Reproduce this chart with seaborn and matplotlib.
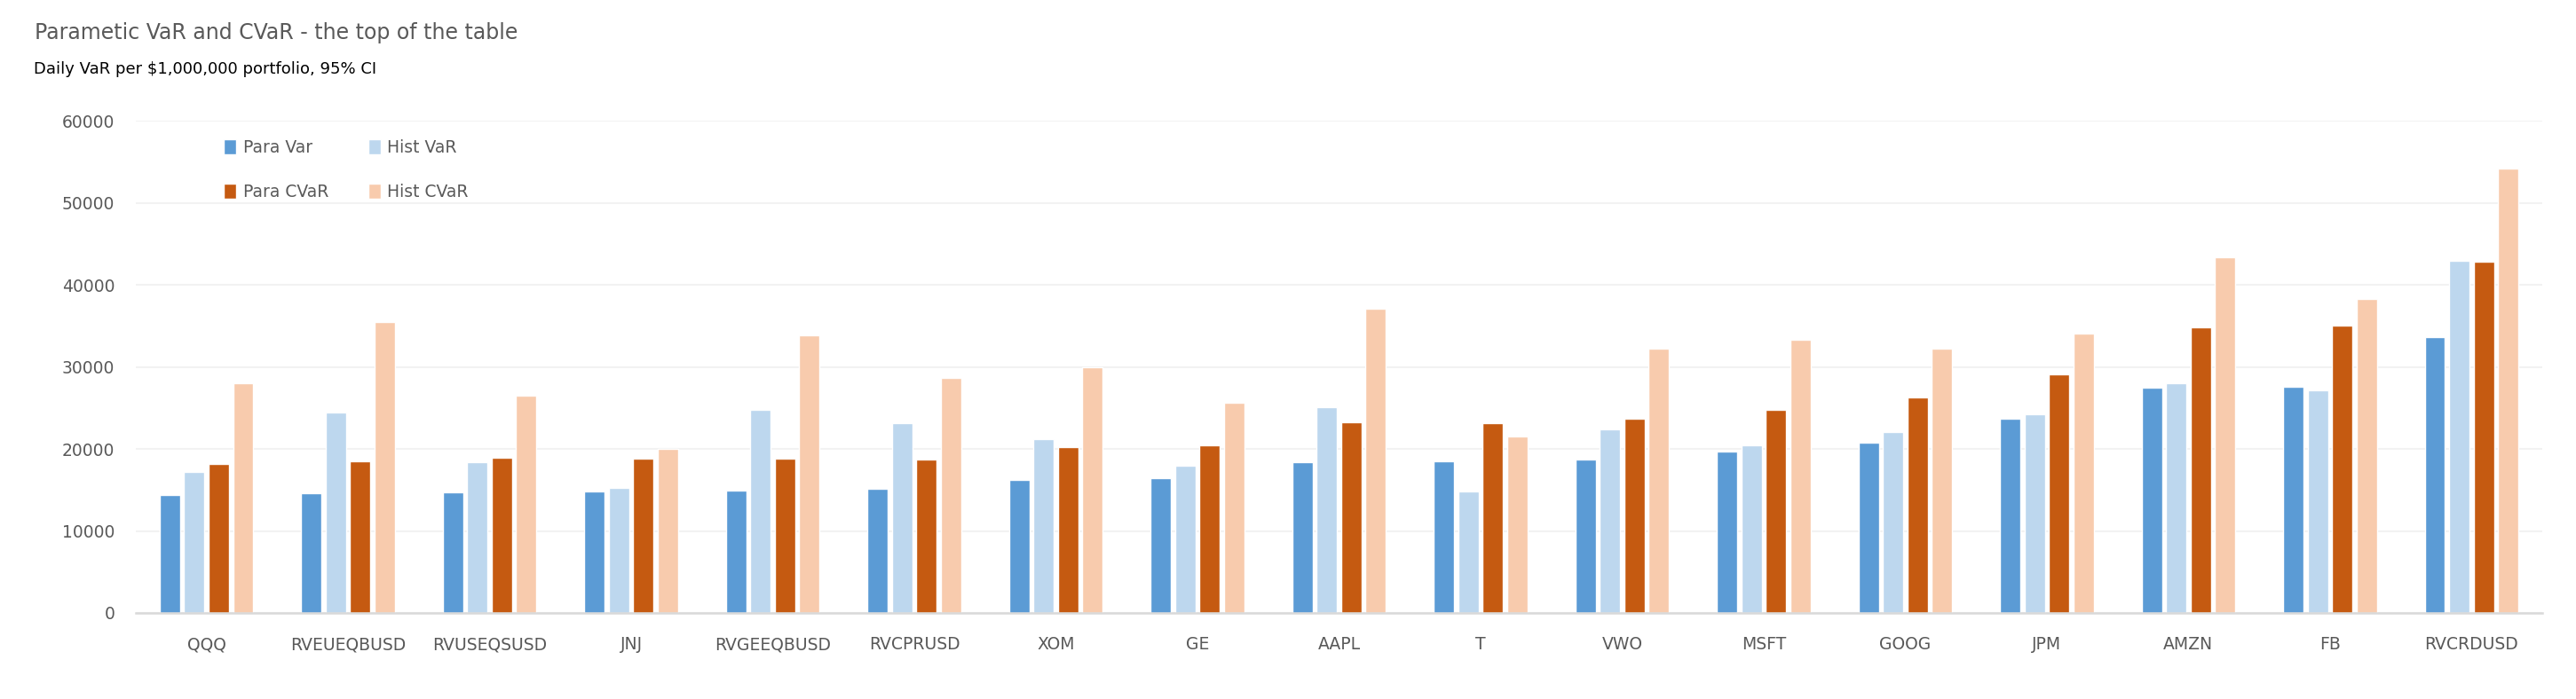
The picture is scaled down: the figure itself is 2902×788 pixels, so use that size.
import seaborn as sns
import matplotlib.pyplot as plt
import pandas as pd

tickers = ["QQQ", "RVEUEQBUSD", "RVUSEQSUSD", "JNJ", "RVGEEQBUSD", "RVCPRUSD", "XOM", "GE",
           "AAPL", "T", "VWO", "MSFT", "GOOG", "JPM", "AMZN", "FB", "RVCRDUSD"]
para_var = [14380, 14600, 14690, 14820, 14910, 15130, 16240, 16410, 18400, 18490, 18710,
            19680, 20740, 23690, 27440, 27570, 33620]
hist_var = [17200, 24440, 18400, 15260, 24750, 23120, 21180, 17960, 25060, 14820, 22370,
            20430, 22060, 24220, 28010, 27130, 42930]
para_cvar = [18180, 18490, 18930, 18790, 18790, 18710, 20210, 20430, 23250, 23120, 23690,
             24750, 26250, 29070, 34810, 35030, 42790]
hist_cvar = [28010, 35470, 26470, 19990, 33840, 28630, 29960, 25630, 37060, 21530, 32210,
             33310, 32210, 34060, 43370, 38250, 54180]

series = ["Para Var", "Hist VaR", "Para CVaR", "Hist CVaR"]
colors = ["#5B9BD5", "#BDD7EE", "#C55A11", "#F8CBAD"]

df = pd.DataFrame({"ticker": tickers * 4,
                   "value": para_var + hist_var + para_cvar + hist_cvar,
                   "measure": [s for s in series for _ in tickers]})

sns.set_style("white")
plt.rcParams["font.family"] = ["DejaVu Sans"]

fig = plt.figure(figsize=(29.02, 7.88), dpi=100)
ax = fig.add_axes([153/2902, 1-691/788, 2711/2902, 555/788])

sns.barplot(data=df, x="ticker", y="value", hue="measure", order=tickers, hue_order=series,
            palette=colors, width=0.69, gap=0.165, saturation=1, errorbar=None, ax=ax)

ax.set_xlim(-0.5, len(tickers) - 0.5)
ax.set_ylim(0, 60000)
ax.set_yticks(range(0, 60001, 10000))
ax.set_xlabel("")
ax.set_ylabel("")
ax.grid(axis="y", color="#F2F2F2", linewidth=1.5)
ax.set_axisbelow(True)
for s in ["top", "right", "left"]:
    ax.spines[s].set_visible(False)
ax.spines["bottom"].set_color("#D9D9D9")
ax.spines["bottom"].set_linewidth(1.8)
ax.tick_params(axis="x", length=0, pad=19, labelsize=13.5, labelcolor="#595959")
ax.tick_params(axis="y", length=0, pad=17, labelsize=13.5, labelcolor="#595959")

# legend rows: Para Var / Hist VaR, then Para CVaR / Hist CVaR
handles, labels = ax.get_legend_handles_labels()
idx = [0, 2, 1, 3]
leg = ax.legend([handles[i] for i in idx], [labels[i] for i in idx], ncol=2,
                loc="upper left", bbox_to_anchor=(0.0365, 0.962), frameon=False,
                fontsize=13.5, handlelength=0.75, handleheight=1.0, handletextpad=0.4,
                columnspacing=2.4, labelspacing=1.65, borderpad=0, borderaxespad=0)
for t in leg.get_texts():
    t.set_color("#595959")

fig.text(39/2902, 1-37/788, "Parametic VaR and CVaR - the top of the table",
         fontsize=17, color="#595959", va="center", ha="left")
fig.text(38/2902, 1-78/788, "Daily VaR per $1,000,000 portfolio, 95% CI",
         fontsize=13, color="black", va="center", ha="left")

fig.savefig("out.png", dpi=100)
